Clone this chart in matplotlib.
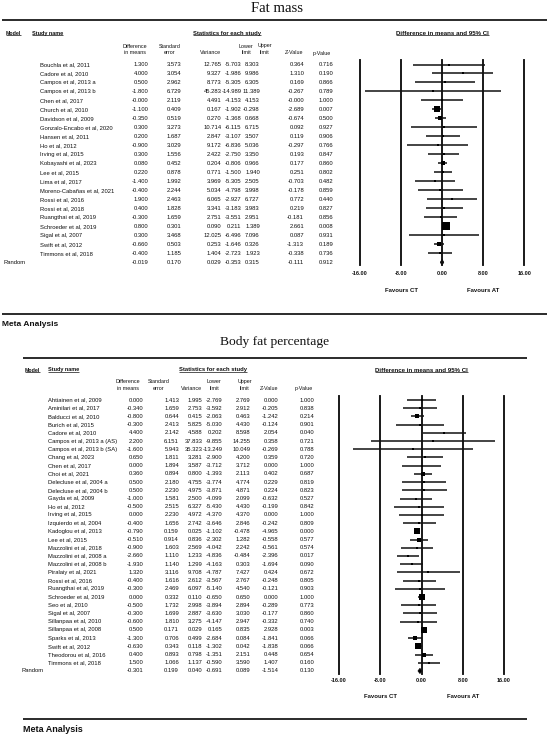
import matplotlib
matplotlib.use("Agg")
import matplotlib.pyplot as plt
import matplotlib.transforms as mtransforms
from matplotlib.patches import Polygon
import numpy as np

# ---------------- DATA ----------------
fm_names = ["Bouchla et al, 2011", "Cadore et al, 2010", "Campos et al, 2013 a", "Campos et al, 2013 b",
            "Chen et al, 2017", "Church et al, 2010", "Davidson et al, 2009", "Gonzalo-Encabo et al, 2020",
            "Hansen et al, 2011", "Ho et al, 2012", "Irving et al, 2015", "Kobayashi et al, 2023",
            "Lee et al, 2015", "Lima et al, 2017", "Moreno-Cabañas et al, 2021", "Rossi et al, 2016",
            "Rossi et al, 2018", "Ruangthai et al, 2019", "Schroeder et al, 2019", "Sigal et al, 2007",
            "Swift et al, 2012", "Timmons et al, 2018"]
fm_diff = [1.300, 4.000, 0.500, -1.800, -0.0, -1.100, -0.350, 0.300, 0.200, -0.900, 0.300, 0.080,
           0.220, -1.400, -0.400, 1.900, 0.400, -0.300, 0.800, 0.300, -0.660, -0.400]
fm_se = [3.573, 3.054, 2.962, 6.729, 2.119, 0.409, 0.519, 3.273, 1.687, 3.029, 1.556, 0.452,
         0.878, 1.992, 2.244, 2.463, 1.828, 1.659, 0.301, 3.468, 0.503, 1.185]
fm_var = [12.765, 9.327, 8.773, 45.283, 4.491, 0.167, 0.270, 10.714, 2.847, 9.172, 2.422, 0.204,
          0.771, 3.969, 5.034, 6.065, 3.341, 2.751, 0.090, 12.025, 0.253, 1.404]
fm_lower = [-5.703, -1.986, -5.305, -14.989, -4.153, -1.902, -1.368, -6.115, -3.107, -6.836, -2.750, -0.806,
            -1.500, -5.305, -4.798, -2.927, -3.183, -3.551, 0.211, -6.496, -1.646, -2.723]
fm_upper = [8.303, 9.986, 6.305, 11.389, 4.153, -0.298, 0.668, 6.715, 3.507, 5.036, 3.350, 0.966,
            1.940, 2.505, 3.998, 6.727, 3.983, 2.951, 1.389, 7.096, 0.326, 1.923]
fm_z = [0.364, 1.310, 0.169, -0.267, -0.0, -2.689, -0.674, 0.092, 0.119, -0.297, 0.193, 0.177,
        0.251, -0.703, -0.178, 0.772, 0.219, -0.181, 2.661, 0.087, -1.313, -0.338]
fm_p = [0.716, 0.190, 0.866, 0.789, 1.000, 0.007, 0.500, 0.927, 0.906, 0.766, 0.847, 0.860,
        0.802, 0.482, 0.859, 0.440, 0.827, 0.856, 0.008, 0.931, 0.189, 0.736]
fm_random = [-0.019, 0.170, 0.029, -0.353, 0.315, -0.111, 0.912]

bf_names = ["Ahtiainen et al, 2009", "Aminilari et al, 2017", "Balducci et al, 2010", "Burich et al, 2015",
            "Cadore et al, 2010", "Campos et al, 2013 a (AS)", "Campos et al, 2013 b (SA)", "Chang et al, 2023",
            "Chen et al, 2017", "Choi et al, 2021", "Delecluse et al, 2004 a", "Delecluse et al, 2004 b",
            "Gayda et al, 2009", "Ho et al, 2012", "Irving et al, 2015", "Izquierdo et al, 2004",
            "Kadoglou et al, 2013", "Lee et al, 2015", "Mazzolini et al, 2018", "Mazzolini et al, 2008 a",
            "Mazzolini et al, 2008 b", "Piralaiy et al, 2021", "Rossi et al, 2016", "Ruangthai et al, 2019",
            "Schroeder et al, 2019", "Seo et al, 2010", "Sigal et al, 2007", "Sillanpaa et al, 2010",
            "Sillanpaa et al, 2008", "Sparks et al, 2013", "Swift et al, 2012", "Theodorou et al, 2016",
            "Timmons et al, 2018"]
bf_diff = [0.000, -0.340, -0.800, -0.300, 4.400, 2.200, -1.600, 0.650, 0.000, 0.360, 0.500, 0.500,
           -1.000, -0.500, 0.000, -0.400, -0.790, -0.510, -0.900, -2.660, -1.930, 1.320, -0.400, -0.300,
           0.000, -0.500, -0.300, -0.600, 0.500, -1.300, -0.630, 0.400, 1.500]
bf_se = [1.413, 1.659, 0.644, 2.413, 2.142, 6.151, 5.943, 1.811, 1.894, 0.894, 2.180, 2.230,
         1.581, 2.515, 2.230, 1.656, 0.159, 0.914, 1.603, 1.110, 1.140, 3.116, 1.616, 2.469,
         0.332, 1.732, 1.699, 1.810, 0.171, 0.706, 0.343, 0.893, 1.066]
bf_var = [1.995, 2.753, 0.415, 5.825, 4.588, 37.833, 35.323, 3.281, 3.587, 0.800, 4.755, 4.975,
          2.500, 6.327, 4.972, 2.742, 0.025, 0.836, 2.569, 1.233, 1.299, 9.708, 2.612, 6.097,
          0.110, 2.998, 2.887, 3.275, 0.029, 0.499, 0.118, 0.798, 1.137]
bf_lower = [-2.769, -3.592, -2.063, -5.030, 0.202, -9.855, -13.249, -2.900, -3.712, -1.393, -3.774, -3.871,
            -4.099, -5.430, -4.370, -3.646, -1.102, -2.302, -4.042, -4.836, -4.163, -4.787, -3.567, -5.140,
            -0.650, -3.894, -3.630, -4.147, 0.165, -2.684, -1.302, -1.351, -0.590]
bf_upper = [2.769, 2.912, 0.463, 4.430, 8.598, 14.255, 10.049, 4.200, 3.712, 2.113, 4.774, 4.871,
            2.099, 4.430, 4.370, 2.846, -0.478, 1.282, 2.242, -0.484, 0.303, 7.427, 2.767, 4.540,
            0.650, 2.894, 3.030, 2.947, 0.835, 0.084, 0.042, 2.151, 3.590]
bf_z = [0.000, -0.205, -1.242, -0.124, 2.054, 0.358, -0.269, 0.359, 0.000, 0.402, 0.229, 0.224,
        -0.632, -0.199, 0.000, -0.242, -4.965, -0.558, -0.561, -2.396, -1.694, 0.424, -0.248, -0.121,
        0.000, -0.289, -0.177, -0.332, 2.928, -1.841, -1.838, 0.448, 1.407]
bf_p = [1.000, 0.838, 0.214, 0.901, 0.040, 0.721, 0.788, 0.720, 1.000, 0.687, 0.819, 0.823,
        0.527, 0.842, 1.000, 0.809, 0.000, 0.577, 0.574, 0.017, 0.090, 0.672, 0.805, 0.903,
        1.000, 0.773, 0.860, 0.740, 0.003, 0.066, 0.066, 0.654, 0.160]
bf_random = [-0.301, 0.199, 0.040, -0.691, 0.089, -1.514, 0.130]

axis_ticks = [-16, -8, 0, 8, 16]
tick_labels = ["-16.00", "-8.00", "0.00", "8.00", "16.00"]
col_headers = [("Difference", "in means"), ("Standard", "error"), ("", "Variance"),
               ("Lower", "limit"), ("Upper", "limit"), ("", "Z-Value"), ("", "p-Value")]

# ---------------- FIGURE ----------------
W, H = 550, 738
fig = plt.figure(figsize=(5.5, 7.38), dpi=100)
fig.patch.set_facecolor("white")
bg = fig.add_axes([0, 0, 1, 1])
bg.set_xlim(0, W)
bg.set_ylim(H, 0)
bg.axis("off")

SANS = "Liberation Sans"
SERIF = "Liberation Serif"
INK = "#111111"
underlined = []


def txt(x, y, s, size=4.1, ha="left", weight="normal", ul=False, family=SANS, transform=None):
    t = bg.text(x, y, s, fontsize=size, ha=ha, va="center", fontweight=weight, family=family,
                color=INK, transform=transform if transform is not None else bg.transData)
    if ul:
        underlined.append(t)
    return t


def rule(x0, x1, y, lw=1.3):
    bg.plot([x0, x1], [y, y], color="#1a1a1a", lw=lw, solid_capstyle="butt")


def panel(c, names, diff, se, var, lo, hi, z, p, rnd):
    # title and rules
    txt(c["title_x"], c["title_y"], c["title"], size=c["title_size"], ha="center", family=SERIF)
    rule(c["rule_x0"], c["rule_x1"], c["rule_top"])
    rule(c["rule_x0"], c["rule_x1"], c["rule_bot"])
    txt(c["meta_x"], c["meta_y"], "Meta Analysis", size=c["meta_size"], weight="bold")

    # headers
    hy = c["head_y"]
    txt(c["model_x"], hy, "Model", size=3.8, weight="bold", ul=True)
    txt(c["study_x"], hy, "Study name", size=4.0, weight="bold", ul=True)
    txt(c["stats_x"], hy, "Statistics for each study", size=4.2, weight="bold", ha="center", ul=True)
    for (l1, l2), cx in zip(col_headers, c["head_cx"]):
        if l1:
            txt(cx, c["head_y1"], l1, size=3.9, ha="center")
        txt(cx, c["head_y2"], l2, size=3.9, ha="center")

    # rows
    cols = [diff, se, var, lo, hi, z, p]
    n = len(names)
    for i in range(n):
        y = c["row0"] + c["step"] * i
        txt(c["name_x"], y, names[i], size=c["fs"])
        for vals, rx in zip(cols, c["col_rx"]):
            txt(rx, y, f"{vals[i]:.3f}", size=c["fs"], ha="right")
    yr = c["row0"] + c["step"] * n
    txt(c["random_x"], yr, "Random", size=c["fs"])
    for v, rx in zip(rnd, c["col_rx"]):
        txt(rx, yr, f"{v:.3f}", size=c["fs"], ha="right")

    # forest axes
    L, R, T, B = c["fx0"], c["fx1"], c["ftop"], c["fbot"]
    ax = fig.add_axes([L / W, 1 - B / H, (R - L) / W, (B - T) / H])
    ax.set_xlim(axis_ticks[0], axis_ticks[-1])
    ax.set_ylim((B - c["row0"]) / c["step"], (T - c["row0"]) / c["step"])
    ax.axis("off")
    for t in axis_ticks:
        ax.axvline(t, color="#111111", lw=1.35, clip_on=False)

    # weights (random effects, DerSimonian-Laird) for marker sizes
    v = np.array(var)
    yv = np.array(diff)
    w = 1 / v
    ybar = np.sum(w * yv) / np.sum(w)
    Q = np.sum(w * (yv - ybar) ** 2)
    C = np.sum(w) - np.sum(w ** 2) / np.sum(w)
    tau2 = max(0.0, (Q - (len(v) - 1)) / C)
    ws = 1 / (v + tau2)
    side = np.clip(c["max_side"] * np.sqrt(ws / ws.max()), c["min_side"], None)

    ax.hlines(np.arange(n), lo, hi, colors="#111111", lw=1.1, clip_on=False)
    for i in range(n):
        ax.plot(diff[i], i, marker="s", ms=side[i] * 0.72, color="black", mew=0, ls="none",
                clip_on=False)
    # diamond
    hh = c["diamond_half"] / c["step"]
    m, l, u = rnd[0], rnd[3], rnd[4]
    ax.add_patch(Polygon([(l, n), (m, n - hh), (u, n), (m, n + hh)], closed=True,
                         facecolor="black", edgecolor="black", lw=0.5, clip_on=False))

    # tick labels and favours
    blend = mtransforms.blended_transform_factory(ax.transData, bg.transData)
    for t, lab in zip(axis_ticks, tick_labels):
        txt(t, c["tick_y"], lab, size=4.0, weight="bold", ha="center", transform=blend)
    txt(-8, c["fav_y"], "Favours CT", size=4.3, weight="bold", ha="center", transform=blend)
    txt(8, c["fav_y"], "Favours AT", size=4.3, weight="bold", ha="center", transform=blend)
    txt(0, c["ci_y"], "Difference in means and 95% CI", size=4.4, weight="bold", ha="center",
        ul=True, transform=blend)


fm_cfg = dict(title="Fat mass", title_x=277, title_y=9, title_size=10.6,
              rule_x0=2, rule_x1=547, rule_top=20, rule_bot=314,
              meta_x=2, meta_y=325, meta_size=6.0,
              head_y=33.5, model_x=6, study_x=32, stats_x=227,
              head_y1=46, head_y2=53, head_cx=[135, 170, 210.5, 246, 265, 294, 322],
              row0=64.5, step=8.99, name_x=40, random_x=3, fs=4.2,
              col_rx=[148.3, 181.7, 221.5, 241.5, 259.8, 304, 333.5],
              fx0=360, fx1=524.3, ftop=60, fbot=265,
              max_side=7.2, min_side=2.0, diamond_half=3.0,
              tick_y=273.3, fav_y=291, ci_y=33.5)

bf_cfg = dict(title="Body fat percentage", title_x=275, title_y=342, title_size=9.7,
              rule_x0=23, rule_x1=527, rule_top=357.5, rule_bot=719,
              meta_x=23, meta_y=729, meta_size=6.5,
              head_y=370, model_x=25, study_x=48, stats_x=213,
              head_y1=381.5, head_y2=388.3, head_cx=[128.3, 158.3, 191.7, 214, 245, 269, 304],
              row0=400, step=8.21, name_x=48, random_x=21.5, fs=4.2,
              col_rx=[143.3, 179, 202.7, 222.7, 250.7, 278.3, 314],
              fx0=339, fx1=504, ftop=395.7, fbot=673.5,
              max_side=6.2, min_side=2.8, diamond_half=2.6,
              tick_y=680.7, fav_y=696.7, ci_y=370)

panel(fm_cfg, fm_names, fm_diff, fm_se, fm_var, fm_lower, fm_upper, fm_z, fm_p, fm_random)
panel(bf_cfg, bf_names, bf_diff, bf_se, bf_var, bf_lower, bf_upper, bf_z, bf_p, bf_random)

# underlines under header texts
fig.canvas.draw()
renderer = fig.canvas.get_renderer()
inv = bg.transData.inverted()
for t in underlined:
    bb = t.get_window_extent(renderer)
    (x0, y0) = inv.transform((bb.x0, bb.y0 + 0.6))
    (x1, _) = inv.transform((bb.x1, bb.y0))
    bg.plot([x0, x1], [y0, y0], color=INK, lw=0.5, solid_capstyle="butt")

fig.savefig("out.png", dpi=100, facecolor="white")
